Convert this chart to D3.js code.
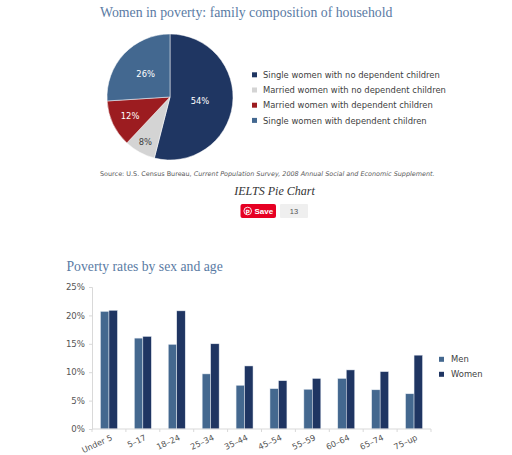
<!DOCTYPE html>
<html>
<head>
<meta charset="utf-8">
<script src="https://cdn.jsdelivr.net/npm/d3@7"></script>
<style>
  body { margin: 0; background: #fff; }
  svg { display: block; }
</style>
</head>
<body>
<script>
// pie data: women in poverty by household composition
const householdTypes = [
  'Single women with no dependent children',
  'Married women with no dependent children',
  'Married women with dependent children',
  'Single women with dependent children'
]
const householdShares = [54, 8, 12, 26]

// bar data: poverty rates by sex and age (%)
const ageGroups = ['Under 5', '5\u201317', '18\u201324', '25\u201334', '35\u201344', '45\u201354', '55\u201359', '60\u201364', '65\u201374', '75\u2013up']
const menRates = [20.7, 16.0, 14.9, 9.7, 7.7, 7.1, 7.0, 8.9, 6.9, 6.2]
const womenRates = [20.9, 16.3, 20.8, 15.0, 11.1, 8.5, 8.9, 10.4, 10.1, 13.0]
const seriesNames = ['Men', 'Women']
const rateTicks = [0, 5, 10, 15, 20, 25]

const width = 512
const height = 455
const sans = 'DejaVu Sans, Verdana, sans-serif'
const serif = 'Liberation Serif, Georgia, serif'
const titleColour = '#5a7ba4'
const textColour = '#555'
const pieColours = ['#1f3662', '#d4d4d4', '#9c1c20', '#436890']
const barColours = ['#44688f', '#1f3562']

const svg = d3.select('body').append('svg')
  .attr('width', width)
  .attr('height', height)

// ---- Pie chart ----
svg.append('text')
  .attr('x', 100)
  .attr('y', 16.5)
  .attr('font-family', serif)
  .attr('font-size', 13.8)
  .attr('fill', titleColour)
  .text('Women in poverty: family composition of household')

const radius = 63
const pieGroup = svg.append('g')
  .attr('transform', 'translate(170,97)')

const pie = d3.pie().sort(null).value(d => d)
const arc = d3.arc().innerRadius(0).outerRadius(radius)
const arcs = pie(householdShares)

pieGroup.selectAll('path')
  .data(arcs)
  .enter()
  .append('path')
  .attr('d', arc)
  .attr('fill', (d, i) => pieColours[i])
  .attr('stroke', '#fff')
  .attr('stroke-width', 0.5)

// label distance from centre, as a share of the radius (small slices sit further out)
const labelRadius = [0.48, 0.81, 0.70, 0.53]
pieGroup.selectAll('text')
  .data(arcs)
  .enter()
  .append('text')
  .attr('transform', (d, i) => {
    const a = (d.startAngle + d.endAngle) / 2
    const r = radius * labelRadius[i]
    return `translate(${Math.sin(a) * r},${-Math.cos(a) * r})`
  })
  .attr('text-anchor', 'middle')
  .attr('dy', '0.35em')
  .attr('font-family', sans)
  .attr('font-size', 8.4)
  .attr('fill', (d, i) => i === 1 ? '#404040' : '#fff')
  .text(d => d.data + '%')

const pieLegend = svg.append('g')
  .attr('transform', 'translate(252,75)')
const pieLegendItems = pieLegend.selectAll('g')
  .data(householdTypes)
  .enter()
  .append('g')
  .attr('transform', (d, i) => `translate(0,${i * 15.2})`)
pieLegendItems.append('rect')
  .attr('x', 0)
  .attr('y', -2.7)
  .attr('width', 5)
  .attr('height', 5)
  .attr('fill', (d, i) => pieColours[i])
pieLegendItems.append('text')
  .attr('x', 11)
  .attr('dy', '0.35em')
  .attr('font-family', sans)
  .attr('font-size', 8.4)
  .attr('fill', '#404040')
  .text(d => d)

const source = svg.append('text')
  .attr('x', 100)
  .attr('y', 176)
  .attr('font-family', sans)
  .attr('font-size', 6.45)
  .attr('fill', '#5a5a5a')
source.append('tspan').text('Source: U.S. Census Bureau, ')
source.append('tspan').attr('font-style', 'italic')
  .text('Current Population Survey, 2008 Annual Social and Economic Supplement.')

svg.append('text')
  .attr('x', 274.5)
  .attr('y', 195)
  .attr('text-anchor', 'middle')
  .attr('font-family', serif)
  .attr('font-style', 'italic')
  .attr('font-size', 12)
  .attr('fill', '#333')
  .text('IELTS Pie Chart')

// pinterest save button
const pin = svg.append('g')
pin.append('rect')
  .attr('x', 240.5).attr('y', 204)
  .attr('width', 35.5).attr('height', 14)
  .attr('rx', 2)
  .attr('fill', '#e60023')
pin.append('circle')
  .attr('cx', 247.7).attr('cy', 211)
  .attr('r', 3.8)
  .attr('fill', 'none')
  .attr('stroke', '#fff')
  .attr('stroke-width', 0.9)
pin.append('text')
  .attr('x', 247.7).attr('y', 213.3)
  .attr('text-anchor', 'middle')
  .attr('font-family', sans)
  .attr('font-weight', 'bold')
  .attr('font-size', 6)
  .attr('fill', '#fff')
  .text('p')
pin.append('text')
  .attr('x', 254.5).attr('y', 213.6)
  .attr('font-family', 'Liberation Sans, Arial, sans-serif')
  .attr('font-weight', 'bold')
  .attr('font-size', 8)
  .attr('fill', '#fff')
  .text('Save')
pin.append('rect')
  .attr('x', 280).attr('y', 204)
  .attr('width', 28).attr('height', 14)
  .attr('rx', 1)
  .attr('fill', '#efefef')
pin.append('text')
  .attr('x', 294).attr('y', 213.5)
  .attr('text-anchor', 'middle')
  .attr('font-family', 'Liberation Sans, Arial, sans-serif')
  .attr('font-size', 7.5)
  .attr('fill', '#555')
  .text('13')

// ---- Bar chart ----
svg.append('text')
  .attr('x', 66.5)
  .attr('y', 271)
  .attr('font-family', serif)
  .attr('font-size', 13.7)
  .attr('fill', titleColour)
  .text('Poverty rates by sex and age')

const plot = { left: 92, right: 431, top: 287, bottom: 429 }

const x = d3.scaleBand()
  .domain(ageGroups)
  .range([plot.left, plot.right])
  .paddingInner(0.5)
  .paddingOuter(0.25)
const xSeries = d3.scaleBand()
  .domain(seriesNames)
  .range([0, x.bandwidth()])
const y = d3.scaleLinear()
  .domain([0, 25])
  .range([plot.bottom, plot.top])

const axisColour = '#d9d9d9'

const yAxis = svg.append('g')
  .attr('transform', `translate(${plot.left},0)`)
  .call(d3.axisLeft(y).tickValues(rateTicks).tickFormat(d => d + '%').tickSize(3).tickPadding(4))
yAxis.select('.domain').attr('stroke', axisColour)
yAxis.selectAll('.tick line').attr('stroke', axisColour)
yAxis.selectAll('.tick text')
  .attr('font-family', sans)
  .attr('font-size', 8.6)
  .attr('fill', textColour)

const rows = ageGroups.map((g, i) => ({ group: g, values: [menRates[i], womenRates[i]] }))

const groups = svg.append('g')
  .selectAll('g')
  .data(rows)
  .enter()
  .append('g')
  .attr('transform', d => `translate(${x(d.group)},0)`)
groups.selectAll('rect')
  .data(d => d.values.map((v, i) => ({ series: seriesNames[i], value: v, i })))
  .enter()
  .append('rect')
  .attr('x', d => xSeries(d.series))
  .attr('y', d => y(d.value))
  .attr('width', xSeries.bandwidth())
  .attr('height', d => y(0) - y(d.value))
  .attr('fill', d => barColours[d.i])
  .attr('stroke', '#e4eaf2')
  .attr('stroke-width', 0.5)

// x axis line with ticks between categories
const step = x.step()
const boundaries = d3.range(ageGroups.length + 1).map(i => plot.left + i * step)
const xAxis = svg.append('g')
xAxis.append('line')
  .attr('x1', plot.left).attr('x2', plot.right)
  .attr('y1', plot.bottom).attr('y2', plot.bottom)
  .attr('stroke', axisColour)
xAxis.selectAll('line.tick')
  .data(boundaries)
  .enter()
  .append('line')
  .attr('class', 'tick')
  .attr('x1', d => d).attr('x2', d => d)
  .attr('y1', plot.bottom).attr('y2', plot.bottom + 3)
  .attr('stroke', axisColour)
xAxis.selectAll('text')
  .data(ageGroups)
  .enter()
  .append('text')
  .attr('transform', d => `translate(${x(d) + x.bandwidth() / 2 + 4},439.5) rotate(-25)`)
  .attr('text-anchor', 'end')
  .attr('font-family', sans)
  .attr('font-size', 8.2)
  .attr('fill', textColour)
  .text(d => d)

const barLegend = svg.append('g')
  .attr('transform', 'translate(439,359.5)')
const barLegendItems = barLegend.selectAll('g')
  .data(seriesNames)
  .enter()
  .append('g')
  .attr('transform', (d, i) => `translate(0,${i * 15})`)
barLegendItems.append('rect')
  .attr('x', 0)
  .attr('y', -2.7)
  .attr('width', 5)
  .attr('height', 5)
  .attr('fill', (d, i) => barColours[i])
barLegendItems.append('text')
  .attr('x', 12)
  .attr('dy', '0.35em')
  .attr('font-family', sans)
  .attr('font-size', 8.4)
  .attr('fill', '#404040')
  .text(d => d)
</script>
</body>
</html>
